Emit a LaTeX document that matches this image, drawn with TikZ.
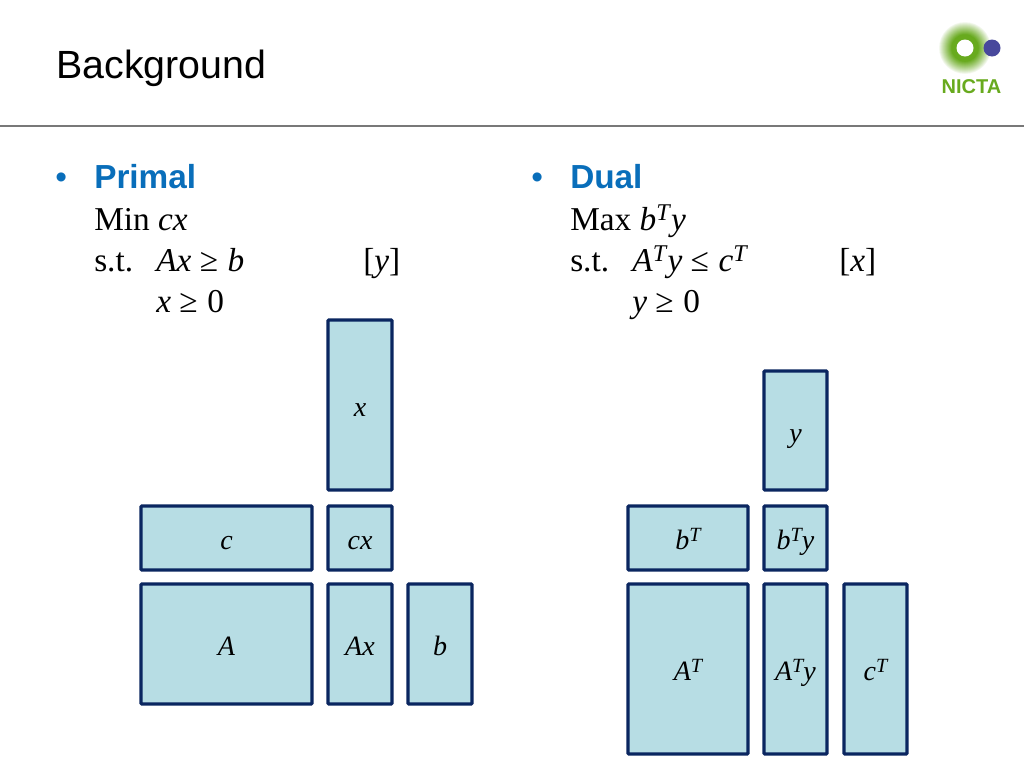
\documentclass[tikz,border=0pt]{standalone}
\usepackage{fontspec}
\setmainfont{Liberation Serif}
\newfontfamily\headfont{Liberation Sans}
\definecolor{boxfill}{RGB}{183,221,228}
\definecolor{boxline}{RGB}{10,38,96}
\definecolor{headblue}{RGB}{9,110,186}
\definecolor{logogreen}{RGB}{104,170,30}
\definecolor{logoblue}{RGB}{72,72,156}
\definecolor{rulegray}{RGB}{120,120,120}
\newcommand{\sq}[1]{\raisebox{0.3em}{\scalebox{0.72}{\textit{#1}}}}
\tikzset{
  databox/.style={draw=boxline,fill=boxfill,line width=2.5pt,rounded corners=0.8pt},
  boxlabel/.style={font=\fontsize{21}{21}\selectfont\itshape,inner sep=0pt,text height=17.6pt,text depth=0pt},
  bodytext/.style={anchor=base west,inner sep=0pt,font=\fontsize{25}{25}\selectfont},
  headtext/.style={anchor=base west,inner sep=0pt,text=headblue,font=\headfont\bfseries\fontsize{25}{25}\selectfont}
}
\begin{document}
\begin{tikzpicture}[x=0.75pt,y=0.75pt,yscale=-1,xscale=1]
\useasboundingbox (0,0) rectangle (1024,768);

% Header
\node (title) [anchor=base west,inner sep=0pt,font=\headfont\fontsize{29.5}{29.5}\selectfont] at (56,78) {Background};
\draw [rulegray,line width=1.1pt] (0,126) -- (1024,126);

% Logo
\foreach \r in {26,25.5,...,9}{
  \pgfmathsetmacro{\mixval}{100*pow(min(1,(26.5-\r)/13),0.9)}
  \fill [logogreen!\mixval!white] (965,48) circle (\r);
}
\fill [white] (965,48) circle (8.5);
\fill [logoblue] (992,48) circle (8.5);
\node (logotext) [anchor=base,inner sep=0pt,text=logogreen,font=\headfont\bfseries\fontsize{15}{15}\selectfont] at (971.5,93) {NICTA};

% Primal text
\node (bulletp) [headtext,font=\headfont\fontsize{25}{25}\selectfont] at (55,188) {•};
\node (primal) [headtext] at (94,188) {Primal};
\node (mincx) [bodytext] at (94,230) {Min \textit{cx}};
\node (stp) [bodytext] at (94,271) {s.t.};
\node (axb) [bodytext] at (156,271) {\textit{Ax} ≥\kern1pt\ \textit{b}};
\node (dualy) [bodytext] at (363,271) {[\textit{y}]};
\node (xpos) [bodytext] at (156,312) {\textit{x} ≥\kern1pt\ 0};

% Dual text
\node (bulletd) [headtext,font=\headfont\fontsize{25}{25}\selectfont] at (531,188) {•};
\node (dual) [headtext] at (570,188) {Dual};
\node (maxby) [bodytext] at (570,230) {Max \textit{b}\sq{T}\textit{y}};
\node (std) [bodytext] at (570,271) {s.t.};
\node (atyc) [bodytext] at (632,271) {\textit{A}\sq{T}\textit{y} ≤\kern1pt\ \textit{c}\sq{T}};
\node (dualx) [bodytext] at (839,271) {[\textit{x}]};
\node (ypos) [bodytext] at (632,312) {\textit{y} ≥\kern1pt\ 0};

% Primal boxes
\draw [databox] (328,320) rectangle (392,490) node (boxx) [midway,boxlabel] {x};
\draw [databox] (141,506) rectangle (312,570) node (boxc) [midway,boxlabel] {c};
\draw [databox] (328,506) rectangle (392,570) node (boxcx) [midway,boxlabel] {cx};
\draw [databox] (141,584) rectangle (312,704) node (boxa) [midway,boxlabel] {A};
\draw [databox] (328,584) rectangle (392,704) node (boxax) [midway,boxlabel] {Ax};
\draw [databox] (408,584) rectangle (472,704) node (boxb) [midway,boxlabel] {b};

% Dual boxes
\draw [databox] (764,371) rectangle (827,490) node (boxy) [midway,boxlabel] {y};
\draw [databox] (628,506) rectangle (748,570) node (boxbt) [midway,boxlabel] {b\sq{T}};
\draw [databox] (764,506) rectangle (827,570) node (boxbty) [midway,boxlabel] {b\sq{T}y};
\draw [databox] (628,584) rectangle (748,754) node (boxat) [midway,boxlabel] {A\sq{T}};
\draw [databox] (764,584) rectangle (827,754) node (boxaty) [midway,boxlabel] {A\sq{T}y};
\draw [databox] (844,584) rectangle (907,754) node (boxct) [midway,boxlabel] {c\sq{T}};

\end{tikzpicture}
\end{document}
